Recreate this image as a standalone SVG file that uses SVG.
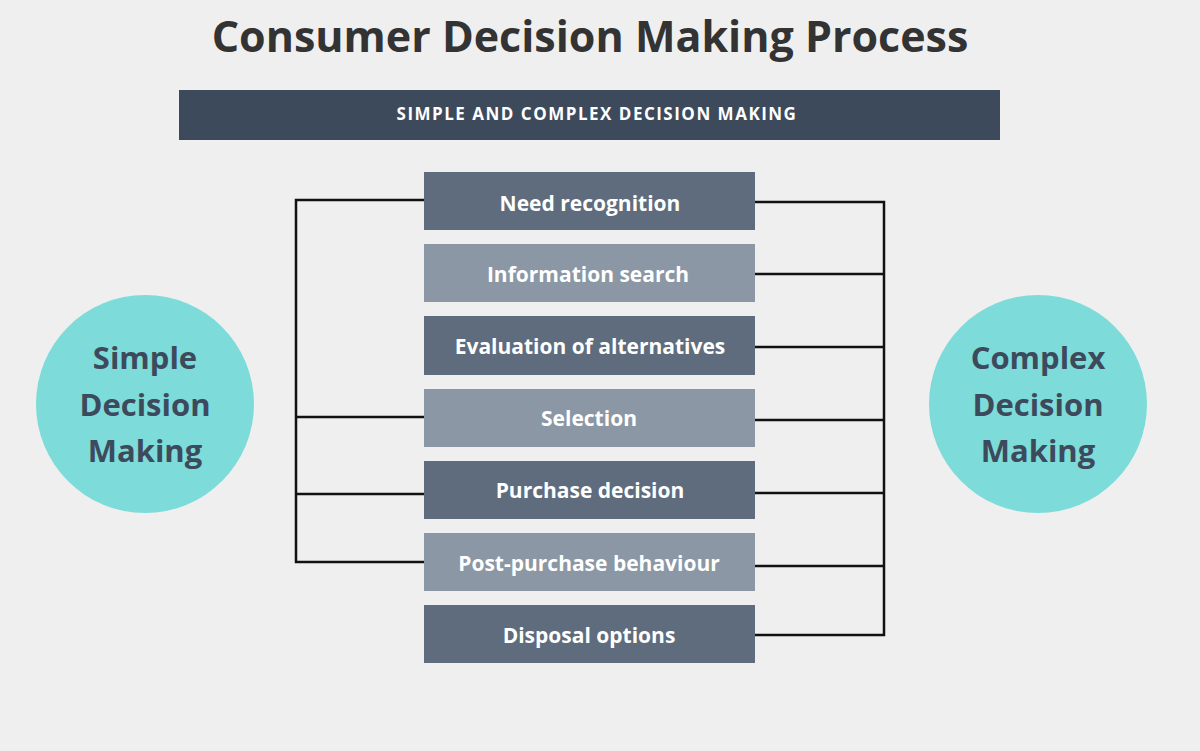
<svg xmlns="http://www.w3.org/2000/svg" width="1200" height="751" viewBox="0 0 1200 751">
<style>
.t{font-family:"Open Sans","Liberation Sans",sans-serif;font-weight:bold;text-anchor:middle}
.bx{fill:#fff;font-size:21px}
.d{fill:#5e6c7d}.l{fill:#8b97a4}
.c{fill:#7ddbd9}.ct{fill:#3d4a5c;font-size:31px}
.ln{stroke:#111;stroke-width:2.5;fill:none}
</style>
<rect width="1200" height="751" fill="#efefef"/>
<text class="t" x="590" y="52" font-size="43" fill="#333">Consumer Decision Making Process</text>
<g id="banner"><rect x="179" y="90" width="821" height="50" fill="#3d4a5c"/>
<text class="t" x="597" y="120" font-size="17" fill="#fff" letter-spacing="1.5">SIMPLE AND COMPLEX DECISION MAKING</text></g>
<g id="connectors" class="ln">
<path d="M424 200H296V562H424M296 417H424M296 494H424"/>
<path d="M755 202H884V635H755M755 274H884M755 347H884M755 420H884M755 493H884M755 566H884"/>
</g>
<g id="n1"><rect class="d" x="424" y="172" width="331" height="58"/><text class="t bx" x="590" y="211">Need recognition</text></g>
<g id="n2"><rect class="l" x="424" y="244" width="331" height="58"/><text class="t bx" x="588" y="282">Information search</text></g>
<g id="n3"><rect class="d" x="424" y="316" width="331" height="59"/><text class="t bx" x="590" y="354">Evaluation of alternatives</text></g>
<g id="n4"><rect class="l" x="424" y="389" width="331" height="58"/><text class="t bx" x="589" y="426">Selection</text></g>
<g id="n5"><rect class="d" x="424" y="461" width="331" height="58"/><text class="t bx" x="590" y="498">Purchase decision</text></g>
<g id="n6"><rect class="l" x="424" y="533" width="331" height="58"/><text class="t bx" x="589" y="571">Post-purchase behaviour</text></g>
<g id="n7"><rect class="d" x="424" y="605" width="331" height="58"/><text class="t bx" x="589" y="643">Disposal options</text></g>
<g id="simple"><circle class="c" cx="145" cy="404" r="109"/>
<text class="t ct" x="145" y="369">Simple</text><text class="t ct" x="145" y="416">Decision</text><text class="t ct" x="145" y="462">Making</text></g>
<g id="complex"><circle class="c" cx="1038" cy="404" r="109"/>
<text class="t ct" x="1038" y="369">Complex</text><text class="t ct" x="1038" y="416">Decision</text><text class="t ct" x="1038" y="462">Making</text></g>
</svg>
